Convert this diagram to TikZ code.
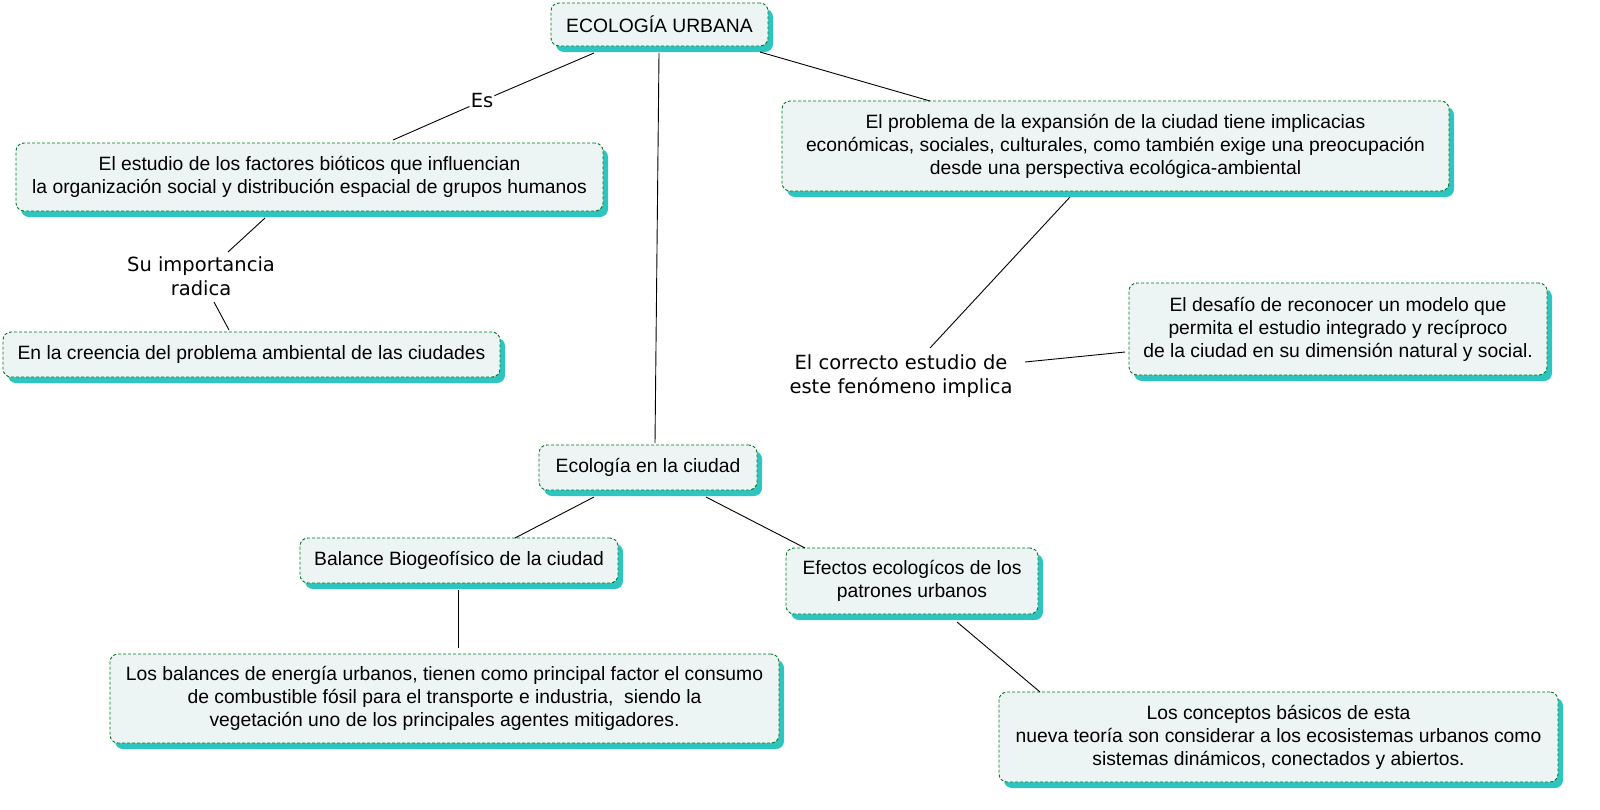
\documentclass[tikz,border=0pt]{standalone}
\usepackage{fontspec}
\setmainfont{Liberation Sans}
\newfontfamily\lblfont{DejaVu Sans}
\begin{document}
\begin{tikzpicture}[x=1pt,y=-1pt,
  box/.style={draw=green!45!black!70!teal, dashed, dash pattern=on 3pt off 2pt, fill={rgb,255:red,237;green,244;blue,244}, rounded corners=8pt, line width=0.9pt, inner sep=0pt, align=center, font=\fontsize{19.3}{23}\selectfont,
    preaction={fill={rgb,255:red,46;green,196;blue,192}, draw=none, transform canvas={shift={(5pt,-6pt)}}}},
  lbl/.style={font=\lblfont\fontsize{19.5}{24}\selectfont, align=center, inner sep=1pt},
  ln/.style={draw=black, line width=0.9pt}]
\newcommand\bx[6]{\node[box, minimum width=#4-#2, minimum height=#5-#3] (#1) at ({(#2+#4)/2},{(#3+#5)/2}) {#6};}
\bx{t}{551}{3}{768}{46}{ECOLOGÍA URBANA}
\bx{a}{16}{143}{603}{211}{El estudio de los factores bióticos que influencian\\la organización social y distribución espacial de grupos humanos}
\bx{b}{3}{332}{500}{377}{En la creencia del problema ambiental de las ciudades}
\bx{c}{782}{101}{1449}{191}{El problema de la expansión de la ciudad tiene implicacias\\económicas, sociales, culturales, como también exige una preocupación\\desde una perspectiva ecológica-ambiental}
\bx{d}{1129}{283}{1547}{375}{El desafío de reconocer un modelo que\\permita el estudio integrado y recíproco\\de la ciudad en su dimensión natural y social.}
\bx{e}{539}{445}{757}{490}{Ecología en la ciudad}
\bx{f}{300}{538}{618}{583}{Balance Biogeofísico de la ciudad}
\bx{g}{786}{548}{1038}{614}{Efectos ecologícos de los\\patrones urbanos}
\bx{h}{110}{654}{779}{743}{Los balances de energía urbanos, tienen como principal factor el consumo\\de combustible fósil para el transporte e industria,\ \ siendo la\\vegetación uno de los principales agentes mitigadores.}
\bx{i}{999}{692}{1558}{782}{Los conceptos básicos de esta\\nueva teoría son considerar a los ecosistemas urbanos como\\sistemas dinámicos, conectados y abiertos.}
\node[lbl] (es) at (482,101) {Es};
\node[lbl] (su) at (201,276) {Su importancia\\radica};
\node[lbl] (co) at (901,376) {El correcto estudio de\\este fenómeno implica};
\coordinate (p1) at (594,53); \coordinate (p2) at (393,140);
\draw[ln] (p1) -- (es); \draw[ln] (es) -- (p2);
\coordinate (p3) at (659,53); \coordinate (p4) at (655,443);
\draw[ln] (p3) -- (p4);
\coordinate (p5) at (760,52); \coordinate (p6) at (930,101);
\draw[ln] (p5) -- (p6);
\coordinate (p7) at (265,218); \coordinate (p8) at (228,252);
\draw[ln] (p7) -- (p8);
\coordinate (p9) at (214,302); \coordinate (p10) at (229,330);
\draw[ln] (p9) -- (p10);
\coordinate (q1) at (1070,197); \coordinate (q2) at (930,348);
\draw[ln] (q1) -- (q2);
\coordinate (q3) at (1025,362); \coordinate (q4) at (1125,352);
\draw[ln] (q3) -- (q4);
\coordinate (q5) at (594,497); \coordinate (q6) at (515,538);
\draw[ln] (q5) -- (q6);
\coordinate (q7) at (706,497); \coordinate (q8) at (805,548);
\draw[ln] (q7) -- (q8);
\coordinate (q9) at (458,590); \coordinate (q10) at (458,648);
\draw[ln] (q9) -- (q10);
\coordinate (r1) at (957,622); \coordinate (r2) at (1040,692);
\draw[ln] (r1) -- (r2);
\pgfresetboundingbox
\path[use as bounding box] (0,0) rectangle (1600,809);
\end{tikzpicture}
\end{document}
